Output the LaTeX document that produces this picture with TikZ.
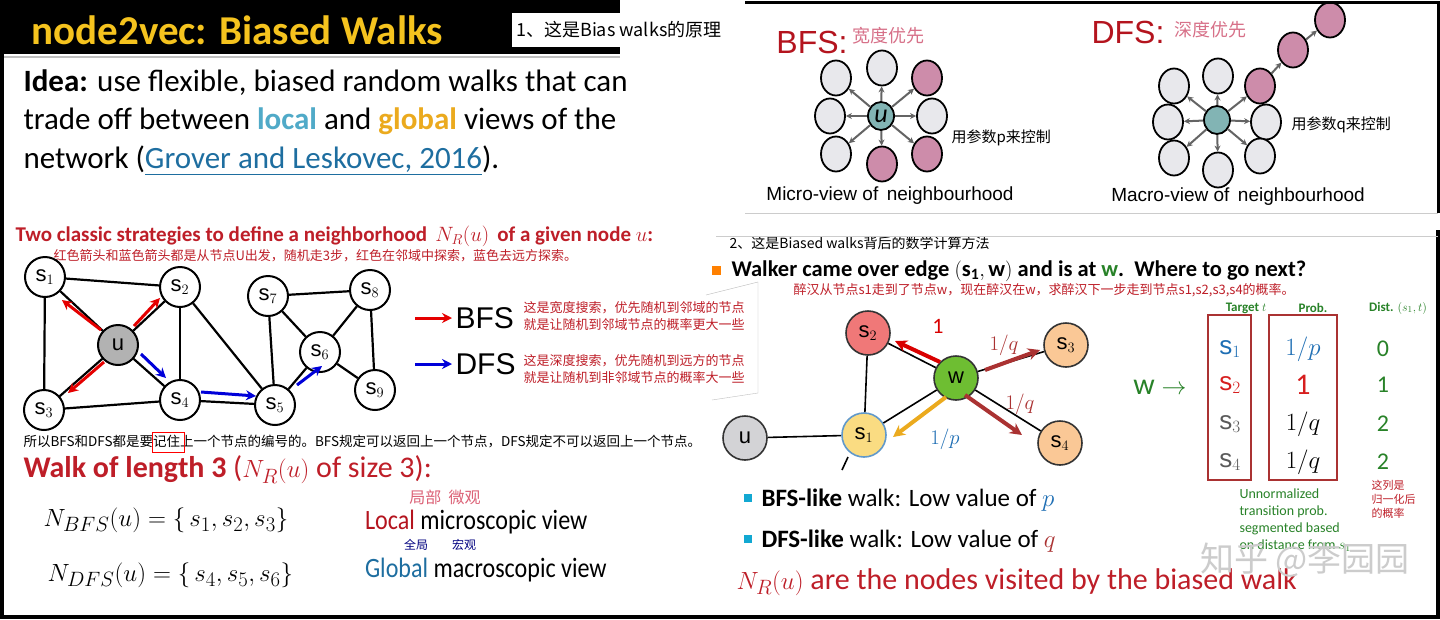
\documentclass[tikz,border=0pt]{standalone}
\usepackage{fontspec}
\setmainfont{Carlito}
\newfontfamily\cjk{Noto Sans CJK SC}
\newfontfamily\arial{Liberation Sans}
\usetikzlibrary{arrows.meta}
\definecolor{dred}{RGB}{180,20,30}
\definecolor{tred}{RGB}{190,30,40}
\definecolor{ttl}{RGB}{245,195,30}
\definecolor{lcl}{RGB}{80,170,200}
\definecolor{glb}{RGB}{235,170,30}
\definecolor{lnk}{RGB}{30,110,160}
\definecolor{pinkn}{RGB}{205,140,170}
\definecolor{greyn}{RGB}{232,232,236}
\definecolor{tealn}{RGB}{130,180,180}
\definecolor{arw}{RGB}{100,100,100}
\definecolor{gw}{RGB}{110,190,50}
\definecolor{os}{RGB}{250,200,150}
\definecolor{rs}{RGB}{240,120,120}
\definecolor{ys}{RGB}{250,220,130}
\definecolor{brn}{RGB}{170,50,50}
\definecolor{grn}{RGB}{40,130,40}
\definecolor{pblue}{RGB}{30,110,180}
\definecolor{sred}{RGB}{215,30,30}
\definecolor{sgray}{RGB}{90,90,90}
\tikzset{
 gn/.style={circle,draw,line width=2pt,fill=white,minimum size=40pt,inner sep=0pt,font=\arial\fontsize{22}{22}\selectfont},
 sn/.style={ellipse,draw=black,line width=1.8pt,minimum width=30pt,minimum height=35pt,inner sep=0pt},
 ed/.style={line width=2.2pt},
 ra/.style={line width=3pt,red!90!black,-{Stealth[length=10pt,width=10pt]}},
 ba/.style={line width=3pt,blue!85!black,-{Stealth[length=10pt,width=10pt]}},
 ga/.style={line width=2pt,arw,-{Stealth[length=6pt,width=6pt]}},
 wn/.style={circle,draw=black!80,line width=1.6pt,minimum size=44pt,inner sep=0pt,font=\arial\fontsize{22}{22}\selectfont},
 wa/.style={line width=4pt,-{Stealth[length=12pt,width=12pt]}},
 cjr/.style={font=\cjk\fontsize{13}{16}\selectfont,text=tred,anchor=west,align=left},
}
\usetikzlibrary{shapes.geometric}
\begin{document}
\begin{tikzpicture}[x=1pt,y=-1pt]
\fill[white] (0,0) rectangle (1440,619);
\useasboundingbox (0,0) rectangle (1440,619);
% title bar
\fill[black] (0,0) rectangle (620,54);
\node[anchor=west,text=ttl,font=\bfseries\fontsize{41}{41}\selectfont] (title) at (28,30) {node2vec: Biased Walks};
\node[fill=white,anchor=west,inner sep=4pt,minimum height=34pt,font=\cjk\fontsize{18}{18}\selectfont] (n1) at (512,30) {1、这是Bias walks的原理};
\draw[gray!50,line width=2pt] (0,57) -- (620,57);
% Idea
\node[anchor=west,font=\fontsize{31}{31}\selectfont] (i1) at (20,83) {\textbf{Idea:} use flexible, biased random walks that can};
\node[anchor=west,font=\fontsize{31}{31}\selectfont] (i2) at (20,121) {trade off between \textcolor{lcl}{\textbf{local}} and \textcolor{glb}{\textbf{global}} views of the};
\node[anchor=west,font=\fontsize{31}{31}\selectfont] (i3) at (20,160) {network (\textcolor{lnk}{\underline{Grover and Leskovec, 2016}}).};
% top-right panel
\node[text=dred,font=\arial\fontsize{32}{32}\selectfont] (bfst) at (812,42) {BFS:};
\node[text=pinkn!80!red,font=\cjk\fontsize{18}{18}\selectfont] (bfsc) at (888,36) {宽度优先};
\node[sn,fill=tealn,minimum width=26pt,minimum height=28pt,font=\fontsize{26}{26}\itshape\selectfont] (bu) at (881,116) {u};
\foreach \n/\x/\y/\c in {a/836/78/greyn,b/882/68/greyn,c/927/78/pinkn,d/830/116/greyn,e/932/116/greyn,f/836/154/greyn,g/882/164/pinkn,h/927/154/pinkn}{
 \node[sn,fill=\c] (b\n) at (\x,\y) {};
 \draw[ga] (bu) -- (b\n);}
\node[anchor=west,font=\cjk\fontsize{15}{15}\selectfont] (pc) at (948,138) {用参数p来控制};
\node[font=\arial\fontsize{19}{19}\selectfont] (mic) at (890,196) {Micro-view of \,neighbourhood};
\node[text=dred,font=\arial\fontsize{32}{32}\selectfont] (dfst) at (1128,32) {DFS:};
\node[text=pinkn!80!red,font=\cjk\fontsize{18}{18}\selectfont] (dfsc) at (1210,30) {深度优先};
\node[sn,fill=tealn,minimum width=26pt,minimum height=28pt] (du) at (1217,120) {};
\foreach \n/\x/\y/\c in {a/1174/86/greyn,b/1218/76/greyn,c/1260/86/pinkn,d/1168/122/greyn,e/1266/122/greyn,f/1174/158/greyn,g/1218/170/greyn,h/1260/156/greyn}{
 \node[sn,fill=\c] (d\n) at (\x,\y) {};
 \draw[ga] (du) -- (d\n);}
\node[sn,fill=pinkn] (dx) at (1293,50) {};
\node[sn,fill=pinkn] (dy) at (1330,20) {};
\draw[ga] (dc) -- (dx);
\draw[ga] (dx) -- (dy);
\node[anchor=west,font=\cjk\fontsize{15}{15}\selectfont] (qc) at (1288,125) {用参数q来控制};
\node[font=\arial\fontsize{19}{19}\selectfont] (mac) at (1238,197) {Macro-view of \,neighbourhood};
% left: strategies
\node[anchor=west,text=tred,font=\bfseries\fontsize{21}{21}\selectfont] (two) at (12,236) {Two classic strategies to define a neighborhood \,$N_R(u)$\, of a given node $u$:};
\node[cjr] (sub) at (50,256) {红色箭头和蓝色箭头都是从节点U出发，随机走3步，红色在邻域中探索，蓝色去远方探索。};
\node[gn] (s1) at (45,277) {s$_1$};
\node[gn] (s2) at (180,287) {s$_2$};
\node[gn,fill=gray!60] (u) at (118,345) {u};
\node[gn] (s3) at (44,410) {s$_3$};
\node[gn] (s4) at (180,400) {s$_4$};
\node[gn] (s5) at (275,405) {s$_5$};
\node[gn] (s7) at (268,296) {s$_7$};
\node[gn] (s8) at (370,290) {s$_8$};
\node[gn] (s6) at (320,352) {s$_6$};
\node[gn] (s9) at (375,390) {s$_9$};
\foreach \a/\b in {s1/s2,s1/u,s1/s3,u/s2,u/s3,u/s4,s2/s4,s2/s5,s3/s4,s4/s5,s5/s7,s5/s6,s7/s8,s7/s6,s6/s8,s6/s9,s8/s9}
 \draw[ed] (\a) -- (\b);
\draw[ra] (101,330) -- (62,300);
\draw[ra] (134,326) -- (160,298);
\draw[ra] (104,362) -- (68,393);
\draw[ba] (141,354) -- (166,378);
\draw[ba] (201,392) -- (256,396);
\draw[ba] (297,385) -- (322,366);
\coordinate (ra1) at (415,318); \coordinate (ra2) at (452,318);
\draw[ra] (ra1) -- (ra2);
\node[anchor=west,font=\arial\fontsize{30}{30}\selectfont] (bfsl) at (452,318) {BFS};
\coordinate (ba1) at (415,364); \coordinate (ba2) at (452,364);
\draw[ba] (ba1) -- (ba2);
\node[anchor=west,font=\arial\fontsize{30}{30}\selectfont] (dfsl) at (452,364) {DFS};
\node[cjr,font=\cjk\fontsize{13}{17}\selectfont] (bfsz) at (520,316) {这是宽度搜索，优先随机到邻域的节点\\就是让随机到邻域节点的概率更大一些};
\node[cjr,font=\cjk\fontsize{13}{17}\selectfont] (dfsz) at (520,369) {这是深度搜索，优先随机到远方的节点\\就是让随机到非邻域节点的概率大一些};
\draw[gray!50] (706,295) -- (758,282) -- (758,393) -- (712,400);
\node[anchor=west,font=\cjk\fontsize{13.5}{14}\selectfont] (bot) at (20,441) {所以BFS和DFS都是要记住上一个节点的编号的。BFS规定可以返回上一个节点，DFS规定不可以返回上一个节点。};
\draw[red,line width=1pt] (152,432) rectangle (184,452);
\node[anchor=west,text=tred,font=\fontsize{30}{30}\selectfont] (walk) at (20,470) {\textbf{Walk of length 3} ($N_R(u)$ of size 3):};
\node[anchor=west,font=\fontsize{29}{29}\selectfont] (nb) at (40,520) {$N_{BFS}(u)=\{\,s_1,s_2,s_3\}$};
\node[anchor=west,font=\fontsize{29}{29}\selectfont] (nd) at (44,575) {$N_{DFS}(u)=\{\,s_4,s_5,s_6\}$};
\node[anchor=west,xscale=0.86,font=\fontsize{28}{28}\selectfont] (lo) at (362,522) {\textcolor{dred}{Local} microscopic view};
\node[anchor=west,xscale=0.86,font=\fontsize{28}{28}\selectfont] (gl) at (362,570) {\textcolor{lnk}{Global} macroscopic view};
\node[text=pinkn!70!red,font=\cjk\fontsize{16}{16}\selectfont] (jb) at (445,497) {局部\ \ 微观};
\node[text=blue!50!black,font=\cjk\fontsize{12}{12}\selectfont] (qj) at (440,545) {全局\qquad 宏观};
% right lower panel
\node[anchor=west,font=\cjk\fontsize{14}{14}\selectfont] (n2) at (726,243) {2、这是Biased walks背后的数学计算方法};
\fill[orange] (712,266) rectangle (721,275);
\node[anchor=west,font=\bfseries\fontsize{22.5}{22.5}\selectfont] (wk) at (728,271) {Walker came over edge $(\mathbf{s_1},\mathbf{w})$ and is at \textcolor{grn}{$\mathbf{w}$}.\ \ Where to go next?};
\node[cjr] (zh2) at (790,290) {醉汉从节点s1走到了节点w，现在醉汉在w，求醉汉下一步走到节点s1,s2,s3,s4的概率。};
\node[wn,fill=rs] (r2) at (868,333) {s$_2$};
\node[wn,fill=gw] (w) at (956,378) {w};
\node[wn,fill=os] (r3) at (1066,345) {s$_3$};
\node[wn,fill=ys,draw=pblue!70] (r1) at (864,435) {s$_1$};
\node[wn,fill=os] (r4) at (1060,443) {s$_4$};
\node[wn,fill=greyn!80!gray] (ru) at (745,438) {u};
\foreach \a/\b in {ru/r1,r1/r2,r2/w,w/r1,w/r3,w/r4} \draw[line width=1.6pt] (\a) -- (\b);
\draw[line width=1.6pt] (848,457) -- (842,470);
\draw[wa,red!85!black] (940,362) -- (895,341);
\node[text=red!85!black,font=\fontsize{22}{22}\selectfont] (l1) at (938,326) {1};
\draw[wa,brn] (985,370) -- (1040,350);
\node[text=brn,font=\fontsize{22}{22}\selectfont] (l2) at (1004,345) {$1/q$};
\draw[wa,brn] (965,395) -- (1022,435);
\node[text=brn,font=\fontsize{22}{22}\selectfont] (l3) at (1020,404) {$1/q$};
\draw[wa,glb] (946,397) -- (893,437);
\node[text=pblue,font=\fontsize{22}{22}\selectfont] (l4) at (945,439) {$1/p$};
\node[text=grn,font=\fontsize{30}{30}\selectfont] (warr) at (1160,387) {w $\rightarrow$};
\draw[brn,line width=2pt] (1208,315) rectangle (1251,480);
\draw[brn,line width=2pt] (1269,315) rectangle (1337,480);
\node[text=grn,font=\bfseries\fontsize{13}{13}\selectfont] (h1) at (1246,308) {Target $t$};
\node[text=grn,font=\bfseries\fontsize{13}{13}\selectfont] (h2) at (1313,308) {Prob.};
\node[text=grn,font=\bfseries\fontsize{13}{13}\selectfont] (h3) at (1398,308) {Dist. $(s_1,t)$};
\foreach \t/\c/\p/\pc/\d/\y in {{s$_1$}/pblue/{$1/p$}/pblue/0/349, {s$_2$}/sred/{1}/sred/1/385, {s$_3$}/sgray/{$1/q$}/black/2/424, {s$_4$}/sgray/{$1/q$}/black/2/462}{
 \node[text=\c,font=\arial\fontsize{26}{26}\selectfont] at (1230,\y) {\t};
 \node[text=\pc,font=\fontsize{30}{30}\selectfont] at (1303,\y) {\p};
 \node[text=grn,font=\fontsize{24}{24}\selectfont] at (1383,\y) {\d};}
\node[text=grn,anchor=north west,align=left,font=\fontsize{14}{17}\selectfont] (un) at (1236,485) {Unnormalized\\transition prob.\\segmented based\\on distance from $s_1$};
\node[cjr,anchor=north west,font=\cjk\fontsize{11}{14}\selectfont] (gy) at (1368,477) {这列是\\归一化后\\的概率};
\fill[pblue!60!cyan] (744,494) rectangle (752,502);
\node[anchor=west,font=\fontsize{25}{25}\selectfont] (b1) at (758,500) {\textbf{BFS-like} walk: Low value of \textcolor{pblue}{$p$}};
\fill[pblue!60!cyan] (744,535) rectangle (752,543);
\node[anchor=west,font=\fontsize{25}{25}\selectfont] (b2) at (758,541) {\textbf{DFS-like} walk: Low value of \textcolor{brn}{$q$}};
\node[anchor=west,text=tred,font=\fontsize{30}{30}\selectfont] (nr) at (733,582) {$N_R(u)$ are the nodes visited by the biased walk};
\node[text=gray!40,font=\cjk\fontsize{34}{34}\selectfont] (wm) at (1305,560) {知乎 @李园园};
% frames
\draw[line width=3pt] (745,2) -- (1438,2) -- (1438,213);
\draw[line width=4pt] (2,0) -- (2,617) -- (1438,617) -- (1438,230);
\draw[gray!40] (745,213) -- (1438,213);
\draw[gray!40] (716,236) -- (1438,236);
\end{tikzpicture}
\end{document}
